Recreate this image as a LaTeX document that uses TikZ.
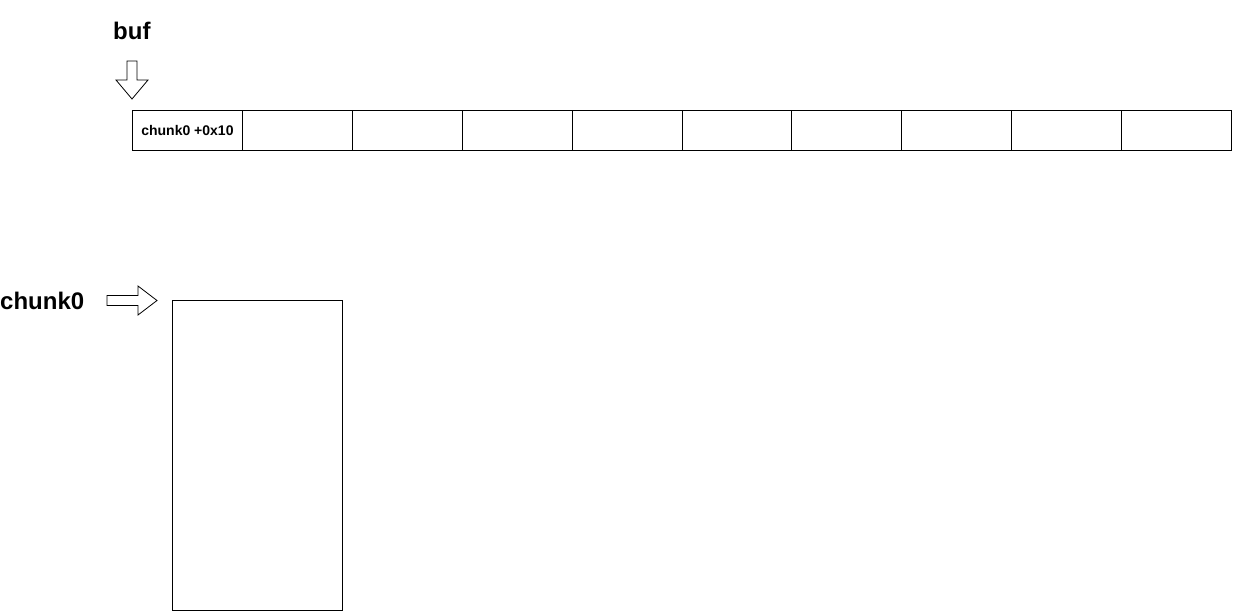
\documentclass[tikz,border=0pt]{standalone}
\usepackage{fontspec}
\setmainfont{Liberation Sans}
\begin{document}
\begin{tikzpicture}[x=1pt,y=-1pt,
  cell/.style={draw=black,line width=1pt,minimum width=109.9pt,minimum height=40pt,inner sep=0pt,outer sep=0pt,anchor=north west},
  biglabel/.style={font=\fontsize{24}{27}\selectfont\bfseries,inner sep=0pt},
  hollow/.style={draw=black,line width=0.8pt,fill=white,line join=miter}]
\useasboundingbox (0,0) rectangle (1233,611);
\node[cell,font=\fontsize{14}{16}\selectfont\bfseries] (c0) at (132.5,110) {chunk0 +0x10};
\foreach \i [evaluate=\i as \x using 132.5+109.9*\i] in {1,...,9}{
  \node[cell] (c\i) at (\x,110) {};
}
\node[biglabel,anchor=west] (buf) at (113,31) {buf};
\node[biglabel,anchor=west] (chunk) at (0,301) {chunk0};
\draw[hollow] (127,61) -- (137,61) -- (137,80) -- (148,80) -- (132,99) -- (116,80) -- (127,80) -- cycle;
\draw[hollow] (107,295.5) -- (138,295.5) -- (138,286) -- (157,300.5) -- (138,315) -- (138,305.5) -- (107,305.5) -- cycle;
\node[draw=black,line width=1pt,minimum width=170pt,minimum height=310pt,inner sep=0pt,anchor=north west] (mem) at (172,300) {};
\end{tikzpicture}
\end{document}
